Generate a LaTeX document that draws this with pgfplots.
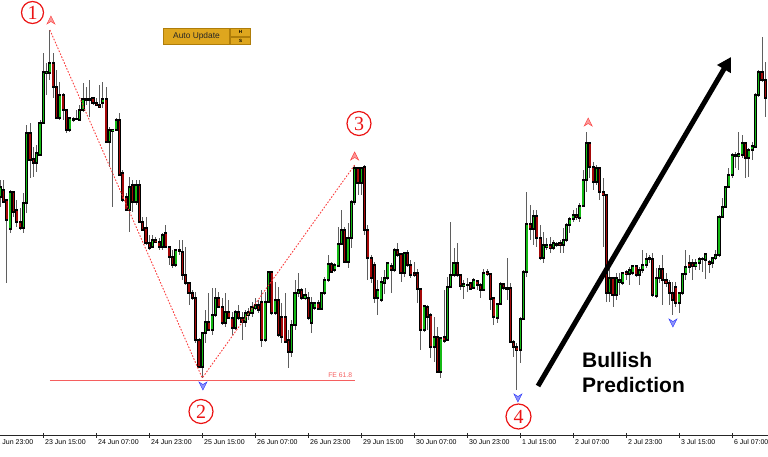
\documentclass[border=0pt]{standalone}
\usepackage{fontspec}
\setmainfont{Liberation Sans}
\newfontfamily\circfont{Liberation Serif}
\usepackage{pgfplots}
\usepackage{pgfplotstable}
\pgfplotsset{compat=1.18}
\usetikzlibrary{arrows.meta}

\definecolor{bullgreen}{RGB}{20,185,20}
\definecolor{bearred}{RGB}{165,8,8}
\definecolor{wickgray}{RGB}{95,95,95}
\definecolor{zigred}{RGB}{250,60,60}
\definecolor{feline}{RGB}{245,95,95}
\definecolor{circred}{RGB}{235,20,20}
\definecolor{fracred}{RGB}{250,70,70}
\definecolor{fracblue}{RGB}{50,60,250}
\definecolor{btngold}{RGB}{222,166,30}
\definecolor{btnedge}{RGB}{175,125,10}

% fractal arrow marks
\pgfdeclareplotmark{fup}{%
  \pgfpathmoveto{\pgfpoint{0pt}{4pt}}%
  \pgfpathlineto{\pgfpoint{4pt}{-4pt}}%
  \pgfpathlineto{\pgfpoint{0pt}{-1.5pt}}%
  \pgfpathlineto{\pgfpoint{-4pt}{-4pt}}%
  \pgfpathclose\pgfusepathqfillstroke}
\pgfdeclareplotmark{fdown}{%
  \pgfpathmoveto{\pgfpoint{0pt}{-4pt}}%
  \pgfpathlineto{\pgfpoint{4pt}{4pt}}%
  \pgfpathlineto{\pgfpoint{0pt}{1.5pt}}%
  \pgfpathlineto{\pgfpoint{-4pt}{4pt}}%
  \pgfpathclose\pgfusepathqfillstroke}

% candle body / wick drawn as error bars
\pgfplotsset{candlebar/.style 2 args={draw=none, mark=none, forget plot,
  error bars/.cd, y dir=both, y explicit, error mark=none,
  error bar style={draw=#1, line width=#2}}}

% H1 candles: bar index, open, high, low, close
\pgfplotstableread{
i o h l c
3 238 255 228 248
4 245 255 233 233
5 235 235 152 215
6 206 245 202 243
7 243 243 218 223
8 225 235 208 213
9 213 227 205 207
10 207 242 202 232
11 232 310 222 302
12 302 312 257 275
13 276 288 258 272
14 272 290 263 282
15 280 315 280 312
16 312 382 312 363
17 362 372 340 363.5
18 362 405 355 372
19 372 382 337 348
20 348 365 317 317
21 317 353 315 340
22 340 342 315 325
23 325 325 302 305
24 305 318 303 317
25 315 318 313 316
26 316 325 315 316.5
27 315 330 315 325
28 325 352 323 336
29 336 348 330 335
30 335 355 318 336
31 337 338 330 332
32 332 337 330 330
33 330 350 328 328
34 332 353 327 336
35 336 348 293 293
36 293 308 268 305
37 304 305 228 305.5
38 305 317 305 315
39 315 322 260 260
40 262 265 233 235
41 238 242 225 225
42 225 258 203 248
43 250 255 223 233
44 233 255 230 250
45 250 255 213 213
46 213 218 205 205
47 207 218 190 192
48 192 200 185 187
49 188 200 187 195
50 195 198 193 193
51 193 197 185 188
52 188 202 185 200
53 202 210 187 188
54 188 188 170 178
55 178 185 167 170
56 170 186 168 185
57 184 195 180 185
58 183 195 155 160
59 160 188 150 152
60 152 153 130 142
61 142 145 135 137
62 137 143 92 95
63 95 97 68 68
64 68 102 57 102
65 102 125 92 113
66 113 142 105 105
67 105 147 100 120
68 120 147 118 137
69 137 143 127 128
70 128 137 110 112
71 112 142 108 123
72 123 135 117 117
73 117 123 100 107
74 107 125 105 123
75 123 130 115 117
76 117 123 95 113
77 113 125 108 122
78 120 127 115 123
79 122 133 118 128
80 127 137 125 130
81 130 135 122 125
82 133 145 88 95
83 95 143 93 133
84 133 163 132 163
85 163 163 120 122
86 122 153 120 135
87 135 148 98 100
88 118 132 92 98
89 118 142 92 93
90 95 105 67 83
91 83 115 78 110
92 110 155 105 142
93 142 162 138 145
94 145 147 135 137
95 137 147 135 140
96 137 143 115 117
97 112 138 102 132
98 127 133 125 132
99 132 135 125 126
100 126 143 125 142
101 142 158 140 155
102 155 180 153 171
103 171 173 163 163
104 165 172 163 170
105 169 208 168 191
106 191 225 190 205
107 205 208 172 173
108 173 212 167 197
109 197 235 187 233
110 233 270 230 267
111 267 268 240 252
112 252 268 240 267
113 268 270 200 205
114 205 210 155 177
115 177 180 152 157
116 170 173 132 137
117 137 155 120 145
118 135 158 133 153
119 152 165 141 157
120 157 173 155 172
121 169 172 142 165
122 165 187 163 185
123 185 192 178 180
124 181 182 153 162
125 162 183 158 182
126 182 185 168 170
127 170 175 157 160
128 162 173 158 160
129 162 166 132 146
130 146 147 85 105
131 105 130 103 129
132 128 130 105 118
133 120 122 77 88
134 88 118 73 98
135 98 108 62 63
136 63 98 57 97
137 98 145 92 94
138 95 158 95 148
139 148 213 148 160
140 160 187 158 172
141 172 192 158 160
142 160 161 145 149
143 149 155 136 151
144 150 157 143 150
145 152 153 145 146
146 147 157 146 155
147 154 155 145 150
148 150 152 137 145
149 145 166 144 162
150 163 166 159 161
151 161 162 125 136
152 137 138 110 118
153 117 132 112 131
154 131 153 130 151
155 151 152 145 147
156 147 177 135 146
157 147 152 92 93
158 93 95 78 88
159 88 92 45 85
160 85 118 72 116
161 116 165 115 163
162 163 243 158 211
163 211 230 195 206
164 206 225 190 219
165 219 225 188 197
166 197 210 175 177
167 177 203 172 190
168 188 197 185 190
169 190 198 182 187
170 187 195 185 192
171 190 193 188 191
172 192 195 182 190
173 190 207 182 195
174 195 212 193 210
175 210 218 202 216
176 216 225 213 220
177 220 227 215 218
178 217 232 213 229
179 229 265 228 255
180 255 303 243 292
181 292 293 257 268
182 268 273 245 253
183 253 270 250 267
184 267 268 235 243
185 243 257 188 240
186 240 240 133 142
187 142 168 133 157
188 157 158 128 140
189 140 162 135 157
190 153 162 140 155
191 152 163 150 162
192 163 165 155 161
193 161 168 150 165
194 162 170 160 169
195 169 170 158 160
196 160 168 150 165
197 165 185 162 170
198 170 182 167 176
199 176 180 172 177
200 176 182 138 140
201 139 167 137 157
202 157 170 152 166
203 166 180 130 155
204 155 162 148 152
205 152 155 130 142
206 142 153 120 135
207 148 153 128 132
208 132 143 122 142
209 142 162 140 161
210 161 185 155 168
211 172 180 162 168
212 172 176 155 169
213 169 176 165 172
214 172 178 165 176
215 176 178 163 176
216 175 182 156 181
217 173 175 162 171
218 172 178 167 177
219 177 185 175 180
220 180 220 178 218
221 218 237 217 228
222 228 248 227 248
223 248 267 247 260
224 260 282 257 280
225 280 283 267 279
226 279 303 265 281
227 280 300 277 292
228 292 293 257 277
229 277 287 258 285
230 285 293 275 289
231 288 342 287 340
232 340 365 338 363
233 363 398 353 355
234 355 373 318 337
}\candles

\begin{document}
\begin{tikzpicture}
\begin{axis}[
  at={(0pt,21pt)}, anchor=south west,
  scale only axis,
  width=768pt, height=435pt,
  xmin=2.93, xmax=234.8,
  ymin=0, ymax=435,
  axis x line*=bottom,
  axis y line=none,
  axis line style={black!85, line width=0.8pt},
  xtick={16,32,...,224},
  xticklabels={23 Jun 15:00, 24 Jun 07:00, 24 Jun 23:00, 25 Jun 15:00,
    26 Jun 07:00, 26 Jun 23:00, 29 Jun 15:00, 30 Jun 07:00, 30 Jun 23:00,
    1 Jul 15:00, 2 Jul 07:00, 2 Jul 23:00, 3 Jul 15:00, 6 Jul 07:00},
  tick align=center,
  major tick length=5pt,
  xtick style={black!85, line width=0.8pt},
  xticklabel style={anchor=north west, inner sep=0pt, xshift=1.7pt, yshift=-1.5pt,
    font=\fontsize{7}{8}\selectfont},
  clip=false,
]
% wicks
\addplot[candlebar={wickgray}{0.9pt}]
  table[x=i, y expr={(\thisrow{h}+\thisrow{l})/2},
        y error expr={(\thisrow{h}-\thisrow{l})/2}] {\candles};
% body outlines
\addplot[candlebar={black}{3.1pt}]
  table[x=i, y expr={(\thisrow{o}+\thisrow{c})/2},
        y error expr={abs(\thisrow{c}-\thisrow{o})/2+0.6}] {\candles};
% bull bodies
\addplot[candlebar={bullgreen}{1.5pt}]
  table[x=i, y expr={\thisrow{c}>=\thisrow{o} ? (\thisrow{o}+\thisrow{c})/2 : nan},
        y error expr={max(abs(\thisrow{c}-\thisrow{o})/2-0.6,0)}] {\candles};
% bear bodies
\addplot[candlebar={bearred}{1.5pt}]
  table[x=i, y expr={\thisrow{c}<\thisrow{o} ? (\thisrow{o}+\thisrow{c})/2 : nan},
        y error expr={max(abs(\thisrow{c}-\thisrow{o})/2-0.6,0)}] {\candles};

% zigzag between the swing points
\addplot[zigred, line width=0.9pt, dash pattern=on 1.6pt off 1.6pt]
  coordinates {(18,405) (64,57) (110,270)};
% Fibonacci expansion 61.8 level
\addplot[feline, line width=0.9pt] coordinates {(18,55) (110,55)};
\node[anchor=south east, inner sep=0pt, text=feline,
  font=\fontsize{6.8}{7}\selectfont] at (axis cs:109.3,57.5) {FE 61.8};

% fractal markers
\addplot[only marks, mark=fup, draw=fracred, fill=fracred!55, line width=0.5pt]
  coordinates {(18.3,415) (110,279) (180.5,313)};
\addplot[only marks, mark=fdown, draw=fracblue, fill=fracblue!55, line width=0.5pt]
  coordinates {(64.2,49) (159.3,37) (206.1,112)};
\end{axis}

% annotations in page pixels (origin top left)
\begin{scope}[x=1pt, y=-1pt, yshift=456pt]
  \node[anchor=north west, inner sep=0pt, font=\fontsize{7}{8}\selectfont]
    at (-7.5,439.5) {22 Jun 23:00};
  % Auto Update button
  \fill[btngold] (163.5,28.5) rectangle (229.5,44.5);
  \draw[btnedge, line width=0.7pt] (163.5,28.5) rectangle (229.5,44.5);
  \fill[btngold] (230.5,28.5) rectangle (250.5,36);
  \fill[btngold] (230.5,37) rectangle (250.5,44.5);
  \draw[btnedge, line width=0.6pt] (230.5,28.5) rectangle (250.5,36);
  \draw[btnedge, line width=0.6pt] (230.5,37) rectangle (250.5,44.5);
  \node[font=\fontsize{8.4}{9}\selectfont, text=black!85] at (196.5,36.5) {Auto Update};
  \node[font=\bfseries\fontsize{4.5}{5}\selectfont, inner sep=0pt] at (240.5,32.3) {H};
  \node[font=\bfseries\fontsize{4.5}{5}\selectfont, inner sep=0pt] at (240.5,40.8) {S};
  % wave numbers
  \foreach \n/\cx/\cy/\r in {1/32.5/12.5/22, 2/201/411.5/24, 3/359/123.5/24, 4/518.5/416.5/25}{
    \node[circle, draw=circred, line width=1.2pt, minimum size=\r pt, inner sep=0pt,
      text=circred, font=\circfont\fontsize{20}{20}\selectfont] at (\cx,\cy) {\n};
  }
  % prediction arrow and text
  \draw[line width=5pt, -{Triangle[length=14pt, width=15pt]}] (538,386) -- (731,57);
  \node[anchor=base west, inner sep=0pt, font=\bfseries\fontsize{21}{21}\selectfont]
    at (582,367) {Bullish};
  \node[anchor=base west, inner sep=0pt, font=\bfseries\fontsize{21}{21}\selectfont]
    at (582,392) {Prediction};
\end{scope}
\pgfresetboundingbox
\useasboundingbox (0,0) rectangle (768pt,456pt);
\end{tikzpicture}
\end{document}
